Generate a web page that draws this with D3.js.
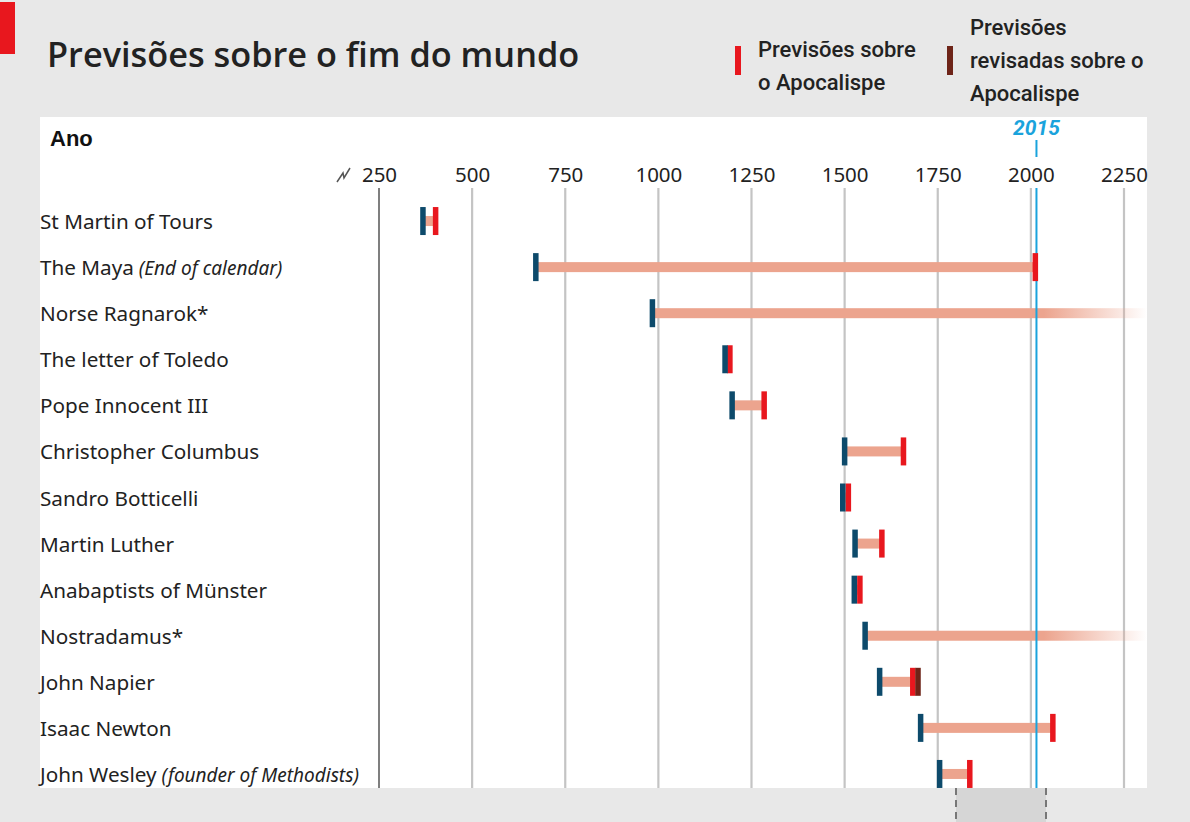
<!DOCTYPE html>
<html>
<head>
<meta charset="utf-8">
<script src="https://cdn.jsdelivr.net/npm/d3@7"></script>
<style>
  body { margin: 0; background: #e8e8e8; }
  svg { display: block; }
</style>
</head>
<body>
<svg id="chart" width="1190" height="822"></svg>
<script>
// rows of the chart, top to bottom
const names = ["St Martin of Tours", "The Maya", "Norse Ragnarok*", "The letter of Toledo",
  "Pope Innocent III", "Christopher Columbus", "Sandro Botticelli", "Martin Luther",
  "Anabaptists of Münster", "Nostradamus*", "John Napier", "Isaac Newton", "John Wesley"];
const notes = ["", "(End of calendar)", "", "", "", "", "", "", "", "", "", "", "(founder of Methodists)"];
// year the prediction was made
const starts = [368, 671, 984, 1179, 1198, 1500, 1495, 1528, 1526, 1555, 1594, 1704, 1755];
// predicted year of the end (null = open ended)
const ends = [402, 2012, null, 1192, 1284, 1658, 1510, 1600, 1541, null, 1683, 2059, 1836];
// revised prediction
const revised = [null, null, null, null, null, null, null, null, null, null, 1697, null, null];
const tickYears = [250, 500, 750, 1000, 1250, 1500, 1750, 2000, 2250];
const nowYear = 2015;

const blue = "#0d4a6b", red = "#e8171e", brown = "#6e2418", pink = "#eca48e", cyan = "#1aa3dc";
const rowFont = "'Noto Sans', sans-serif";
const headFont = "Roboto, 'Liberation Sans', sans-serif";

const svg = d3.select("#chart");
const x = d3.scaleLinear().domain([250, 2250]).range([379, 1124]);
const y = d3.scaleBand().domain(d3.range(names.length)).range([198, 797]);
const yc = i => y(i) + y.bandwidth() / 2;

const panel = { left: 40, right: 1147, top: 117, bottom: 788 };

// red corner mark
svg.append("rect").attr("x", 0).attr("y", 2).attr("width", 15).attr("height", 52).attr("fill", red);

svg.append("text")
    .attr("x", 47).attr("y", 67)
    .attr("font-family", "'Open Sans', sans-serif")
    .attr("font-weight", 600)
    .attr("font-size", 34.3)
    .attr("fill", "#222")
    .text("Previsões sobre o fim do mundo");

// legend
const legend = [
  { x: 735, color: red, lines: ["Previsões sobre", "o Apocalispe"], y0: 57 },
  { x: 947, color: brown, lines: ["Previsões", "revisadas sobre o", "Apocalispe"], y0: 35 }
];
legend.forEach(l => {
    svg.append("rect").attr("x", l.x).attr("y", 46).attr("width", 6).attr("height", 29).attr("fill", l.color);
    const t = svg.append("text")
        .attr("font-family", headFont).attr("font-size", 22).attr("font-weight", 500)
        .attr("fill", "#222");
    l.lines.forEach((s, i) => {
        t.append("tspan").attr("x", l.x + 23).attr("y", l.y0 + 33 * i).text(s);
    });
});

// bit of panel below, cut off
svg.append("rect").attr("x", 956).attr("y", panel.bottom).attr("width", 90).attr("height", 40).attr("fill", "#d6d6d6");
[956, 1046].forEach(px => {
    svg.append("line").attr("x1", px).attr("x2", px).attr("y1", panel.bottom).attr("y2", 822)
        .attr("stroke", "#777").attr("stroke-width", 2).attr("stroke-dasharray", "7,5");
});

svg.append("rect")
    .attr("x", panel.left).attr("y", panel.top)
    .attr("width", panel.right - panel.left).attr("height", panel.bottom - panel.top)
    .attr("fill", "#fff");

svg.append("text")
    .attr("x", 50).attr("y", 146)
    .attr("font-family", "'Liberation Sans', Arial, sans-serif")
    .attr("font-weight", "bold").attr("font-size", 22)
    .attr("fill", "#111")
    .text("Ano");

// gridlines
svg.append("g").selectAll("line")
    .data(tickYears)
    .join("line")
    .attr("x1", d => x(d)).attr("x2", d => x(d))
    .attr("y1", 188).attr("y2", panel.bottom)
    .attr("stroke", d => d === 250 ? "#555" : "#c4c4c4")
    .attr("stroke-width", d => d === 250 ? 1.5 : 2.2);

// axis labels
const axis = svg.append("g")
    .attr("transform", "translate(0,182)")
    .call(d3.axisTop(x).tickValues(tickYears).tickSize(0).tickPadding(0).tickFormat(d3.format("d")));
axis.select(".domain").remove();
axis.selectAll("text")
    .attr("font-family", rowFont).attr("font-size", 20.5).attr("fill", "#222");

// broken axis mark
svg.append("path")
    .attr("d", "M337,182 L343,173 L344,178 L350,168")
    .attr("fill", "none").attr("stroke", "#555").attr("stroke-width", 1.5);

// 2015 marker
svg.append("text")
    .attr("x", x(nowYear)).attr("y", 135)
    .attr("text-anchor", "middle")
    .attr("font-family", headFont).attr("font-style", "italic").attr("font-weight", "bold")
    .attr("font-size", 21).attr("fill", cyan)
    .text(nowYear);
svg.append("line")
    .attr("x1", x(nowYear)).attr("x2", x(nowYear)).attr("y1", 140).attr("y2", 157)
    .attr("stroke", cyan).attr("stroke-width", 2);

// fade for open ended bars
const grad = svg.append("defs").append("linearGradient")
    .attr("id", "fade").attr("gradientUnits", "userSpaceOnUse")
    .attr("x1", x(2035)).attr("x2", panel.right).attr("y1", 0).attr("y2", 0);
grad.append("stop").attr("offset", 0).attr("stop-color", pink).attr("stop-opacity", 1);
grad.append("stop").attr("offset", 1).attr("stop-color", pink).attr("stop-opacity", 0);

const rows = d3.range(names.length);

// bars
svg.append("g").selectAll("rect")
    .data(rows)
    .join("rect")
    .attr("x", i => x(starts[i]))
    .attr("width", i => (ends[i] === null ? panel.right : x(ends[i])) - x(starts[i]))
    .attr("y", i => yc(i) - 5)
    .attr("height", 10)
    .attr("fill", i => ends[i] === null ? "url(#fade)" : pink);

// 2015 line over the bars
svg.append("line")
    .attr("x1", x(nowYear)).attr("x2", x(nowYear)).attr("y1", 188).attr("y2", panel.bottom)
    .attr("stroke", cyan).attr("stroke-width", 2);

const tickW = 5.5, tickH = 28;
function drawTicks(vals, color) {
    svg.append("g").selectAll("rect")
        .data(rows.filter(i => vals[i] !== null))
        .join("rect")
        .attr("x", i => x(vals[i]) - tickW / 2)
        .attr("y", i => yc(i) - tickH / 2)
        .attr("width", tickW).attr("height", tickH)
        .attr("fill", color);
}
drawTicks(ends, red);
drawTicks(revised, brown);
drawTicks(starts, blue);

// row labels
const labels = svg.append("g").selectAll("text")
    .data(rows)
    .join("text")
    .attr("x", 40)
    .attr("y", i => yc(i) + 8)
    .attr("font-family", rowFont).attr("font-size", 20.7).attr("fill", "#222");
labels.append("tspan").text(i => names[i]);
labels.append("tspan")
    .attr("font-style", "italic").attr("font-size", 19)
    .text(i => notes[i] ? " " + notes[i] : "");
</script>
</body>
</html>
